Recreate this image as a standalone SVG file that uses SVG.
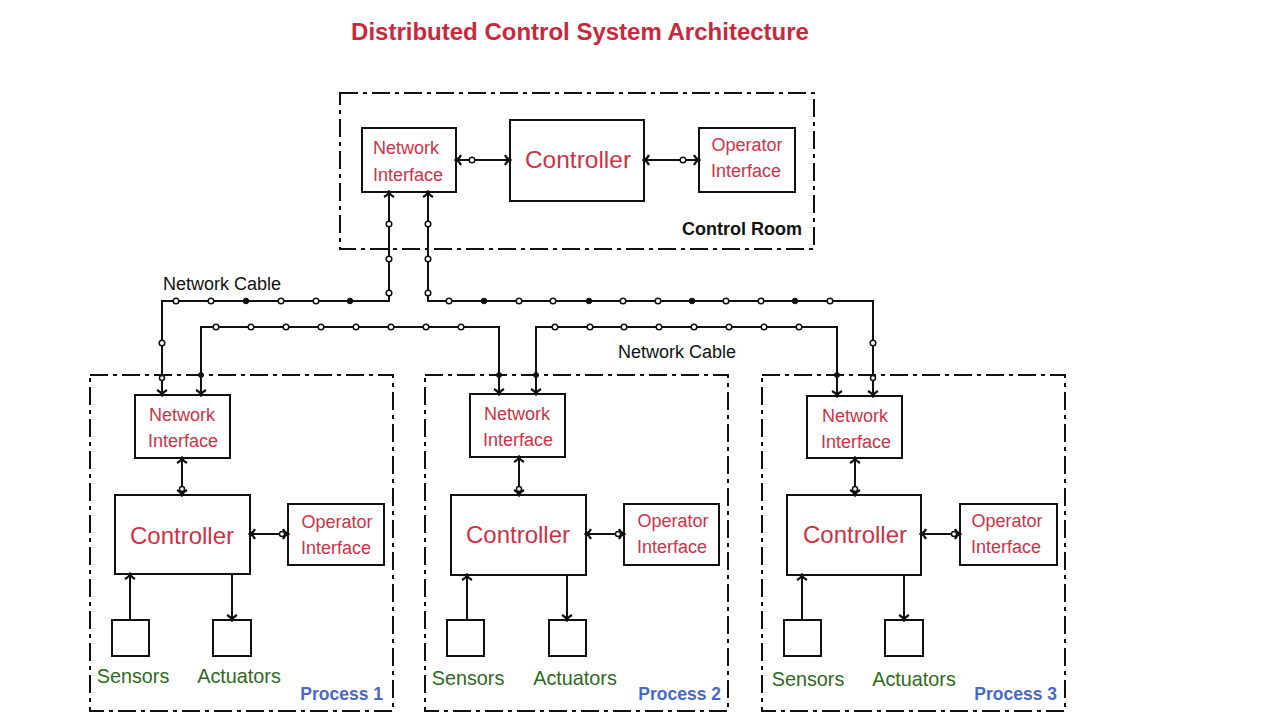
<svg xmlns="http://www.w3.org/2000/svg" width="1280" height="720" viewBox="0 0 1280 720">
<style>
.zone{fill:none;stroke:#111;stroke-width:2;stroke-dasharray:18 5 4 5}
.box{fill:#fff;stroke:#111;stroke-width:2}
.cable{fill:none;stroke:#111;stroke-width:2}
.link{fill:none;stroke:#111;stroke-width:2}
.ho{fill:#fff;stroke:#111;stroke-width:1.5}
.fi{fill:#111;stroke:#111;stroke-width:1}
.lbl{font-family:"Liberation Sans",Arial,sans-serif;fill:#cc3347;text-anchor:middle}
.ni{font-size:18px}
.ctl{font-size:24px}
.grn{font-family:"Liberation Sans",Arial,sans-serif;fill:#2d6a1e;font-size:19.8px;text-anchor:middle}
.proc{font-family:"Liberation Sans",Arial,sans-serif;fill:#4a68c8;font-size:17.5px;font-weight:bold;text-anchor:end}
.blk{font-family:"Liberation Sans",Arial,sans-serif;fill:#111;font-size:18px}
</style>
<defs>
<marker id="ah" viewBox="-8 -7 10 14" refX="0" refY="0" markerWidth="10" markerHeight="14" markerUnits="userSpaceOnUse" orient="auto-start-reverse">
<path d="M-5,-5 Q-3,-1 0,0 Q-3,1 -5,5" fill="none" stroke="#111" stroke-width="2.2"/>
</marker>
</defs>
<rect width="1280" height="720" fill="#fff"/>
<text x="580" y="40" font-family="Liberation Sans,Arial,sans-serif" font-size="24" font-weight="bold" fill="#c8283c" text-anchor="middle">Distributed Control System Architecture</text>

<g id="control-room">
<rect class="zone" x="340" y="93" width="474" height="156"/>
<text class="blk" x="802" y="235" text-anchor="end" font-weight="bold" font-size="17.5px">Control Room</text>
</g>
<g id="cr-network-interface">
<rect class="box" x="362" y="128" width="94" height="64"/>
<text class="lbl ni" x="406" y="154">Network</text>
<text class="lbl ni" x="408" y="181">Interface</text>
</g>
<g id="cr-controller">
<rect class="box" x="510" y="120" width="134" height="81"/>
<text class="lbl" x="578" y="168" font-size="24.5px">Controller</text>
</g>
<g id="cr-operator-interface">
<rect class="box" x="699" y="128" width="96" height="64"/>
<text class="lbl ni" x="747" y="151">Operator</text>
<text class="lbl ni" x="746" y="177">Interface</text>
</g>

<g id="process-1">
<rect class="zone" x="90" y="375" width="303" height="336"/>
<text class="proc" x="383" y="700">Process 1</text>
</g>
<g id="process-2">
<rect class="zone" x="425" y="375" width="303" height="336"/>
<text class="proc" x="721" y="700">Process 2</text>
</g>
<g id="process-3">
<rect class="zone" x="762" y="375" width="303" height="336"/>
<text class="proc" x="1057" y="700">Process 3</text>
</g>

<g id="p1-nodes">
<g id="p1-network-interface"><rect class="box" x="135" y="395" width="95" height="63"/><text class="lbl ni" x="182" y="421">Network</text><text class="lbl ni" x="183" y="447">Interface</text></g>
<g id="p1-controller"><rect class="box" x="115" y="495" width="135" height="79"/><text class="lbl ctl" x="182" y="544">Controller</text></g>
<g id="p1-operator-interface"><rect class="box" x="288" y="504" width="96" height="61"/><text class="lbl ni" x="337" y="528">Operator</text><text class="lbl ni" x="336" y="554">Interface</text></g>
<g id="p1-sensors"><rect class="box" x="112" y="620" width="37" height="36"/><text class="grn" x="133" y="683">Sensors</text></g>
<g id="p1-actuators"><rect class="box" x="213" y="620" width="38" height="36"/><text class="grn" x="239" y="683">Actuators</text></g>
</g>
<g id="p2-nodes" transform="translate(335,0)">
<g id="p2-network-interface"><rect class="box" x="135" y="394" width="95" height="63"/><text class="lbl ni" x="182" y="420">Network</text><text class="lbl ni" x="183" y="446">Interface</text></g>
<g id="p2-controller"><rect class="box" x="116" y="495" width="135" height="80"/><text class="lbl ctl" x="183" y="543">Controller</text></g>
<g id="p2-operator-interface"><rect class="box" x="289" y="504" width="95" height="61"/><text class="lbl ni" x="338" y="527">Operator</text><text class="lbl ni" x="337" y="553">Interface</text></g>
<g id="p2-sensors"><rect class="box" x="112" y="620" width="37" height="36"/><text class="grn" x="133" y="685">Sensors</text></g>
<g id="p2-actuators"><rect class="box" x="214" y="620" width="37" height="36"/><text class="grn" x="240" y="685">Actuators</text></g>
</g>
<g id="p3-nodes" transform="translate(672,0)">
<g id="p3-network-interface"><rect class="box" x="135" y="396" width="95" height="62"/><text class="lbl ni" x="183" y="422">Network</text><text class="lbl ni" x="184" y="448">Interface</text></g>
<g id="p3-controller"><rect class="box" x="115" y="495" width="134" height="80"/><text class="lbl ctl" x="183" y="543">Controller</text></g>
<g id="p3-operator-interface"><rect class="box" x="288" y="504" width="97" height="61"/><text class="lbl ni" x="335" y="527">Operator</text><text class="lbl ni" x="334" y="553">Interface</text></g>
<g id="p3-sensors"><rect class="box" x="112" y="620" width="37" height="36"/><text class="grn" x="136" y="686">Sensors</text></g>
<g id="p3-actuators"><rect class="box" x="213" y="620" width="38" height="36"/><text class="grn" x="242" y="686">Actuators</text></g>
</g>

<g id="connectors">
<path class="link" d="M456,160 H510" marker-start="url(#ah)" marker-end="url(#ah)"/>
<path class="link" d="M644,160 H699" marker-start="url(#ah)" marker-end="url(#ah)"/>
<circle class="ho" cx="472" cy="160" r="2.8"/>
<circle class="ho" cx="683" cy="160" r="2.8"/>
<path class="cable" d="M389,192 V301 H162 V395" marker-start="url(#ah)" marker-end="url(#ah)"/>
<path class="cable" d="M428,192 V301 H873 V396" marker-start="url(#ah)" marker-end="url(#ah)"/>
<path class="cable" d="M201,395 V327 H499 V394" marker-start="url(#ah)" marker-end="url(#ah)"/>
<path class="cable" d="M536,394 V327 H837 V396" marker-start="url(#ah)" marker-end="url(#ah)"/>
<g id="cable-beads">
<circle class="ho" cx="389" cy="224" r="2.8"/><circle class="ho" cx="389" cy="259" r="2.8"/><circle class="ho" cx="389" cy="293" r="2.8"/>
<circle class="ho" cx="428" cy="224" r="2.8"/><circle class="ho" cx="428" cy="259" r="2.8"/><circle class="ho" cx="428" cy="293" r="2.8"/>
<circle class="ho" cx="176" cy="301" r="2.8"/><circle class="ho" cx="211" cy="301" r="2.8"/><circle class="fi" cx="246" cy="301" r="2.8"/><circle class="ho" cx="281" cy="301" r="2.8"/><circle class="ho" cx="316" cy="301" r="2.8"/><circle class="fi" cx="350" cy="301" r="2.8"/>
<circle class="ho" cx="449" cy="301" r="2.8"/><circle class="fi" cx="484" cy="301" r="2.8"/><circle class="ho" cx="519" cy="301" r="2.8"/><circle class="ho" cx="553" cy="301" r="2.8"/><circle class="fi" cx="589" cy="301" r="2.8"/><circle class="ho" cx="623" cy="301" r="2.8"/><circle class="ho" cx="658" cy="301" r="2.8"/><circle class="fi" cx="692" cy="301" r="2.8"/><circle class="ho" cx="726" cy="301" r="2.8"/><circle class="ho" cx="761" cy="301" r="2.8"/><circle class="fi" cx="795" cy="301" r="2.8"/><circle class="ho" cx="830" cy="301" r="2.8"/>
<circle class="ho" cx="216" cy="327" r="2.8"/><circle class="ho" cx="251" cy="327" r="2.8"/><circle class="ho" cx="286" cy="327" r="2.8"/><circle class="ho" cx="321" cy="327" r="2.8"/><circle class="ho" cx="356" cy="327" r="2.8"/><circle class="ho" cx="391" cy="327" r="2.8"/><circle class="ho" cx="426" cy="327" r="2.8"/><circle class="ho" cx="461" cy="327" r="2.8"/>
<circle class="ho" cx="555" cy="327" r="2.8"/><circle class="ho" cx="590" cy="327" r="2.8"/><circle class="ho" cx="624" cy="327" r="2.8"/><circle class="ho" cx="659" cy="327" r="2.8"/><circle class="ho" cx="694" cy="327" r="2.8"/><circle class="ho" cx="729" cy="327" r="2.8"/><circle class="ho" cx="764" cy="327" r="2.8"/><circle class="ho" cx="799" cy="327" r="2.8"/>
<circle class="ho" cx="162" cy="343" r="2.8"/><circle class="ho" cx="873" cy="343" r="2.8"/>
<circle class="ho" cx="162" cy="378" r="2.5"/><circle class="fi" cx="201" cy="375" r="2.5"/><circle class="fi" cx="499" cy="375" r="2.5"/><circle class="fi" cx="536" cy="375" r="2.5"/><circle class="fi" cx="837" cy="375" r="2.5"/><circle class="ho" cx="873" cy="378" r="2.5"/>
</g>
<g id="p1-links">
<path class="link" d="M182,458 V495" marker-start="url(#ah)" marker-end="url(#ah)"/><circle class="ho" cx="182" cy="489" r="2.5"/>
<path class="link" d="M250,534 H288" marker-start="url(#ah)" marker-end="url(#ah)"/><circle class="ho" cx="282" cy="534" r="2.5"/>
<path class="link" d="M130,620 V574" marker-end="url(#ah)"/>
<path class="link" d="M232,574 V620" marker-end="url(#ah)"/>
</g>
<g id="p2-links" transform="translate(335,0)">
<path class="link" d="M184,457 V495" marker-start="url(#ah)" marker-end="url(#ah)"/><circle class="ho" cx="184" cy="489" r="2.5"/>
<path class="link" d="M251,534 H289" marker-start="url(#ah)" marker-end="url(#ah)"/><circle class="ho" cx="283" cy="534" r="2.5"/>
<path class="link" d="M132,620 V575" marker-end="url(#ah)"/>
<path class="link" d="M232,575 V620" marker-end="url(#ah)"/>
</g>
<g id="p3-links" transform="translate(672,0)">
<path class="link" d="M183,458 V495" marker-start="url(#ah)" marker-end="url(#ah)"/><circle class="ho" cx="183" cy="489" r="2.5"/>
<path class="link" d="M249,534 H288" marker-start="url(#ah)" marker-end="url(#ah)"/><circle class="ho" cx="282" cy="534" r="2.5"/>
<path class="link" d="M130,620 V575" marker-end="url(#ah)"/>
<path class="link" d="M232,575 V620" marker-end="url(#ah)"/>
</g>
<text class="blk" x="163" y="290">Network Cable</text>
<text class="blk" x="618" y="358">Network Cable</text>
</g>
</svg>
